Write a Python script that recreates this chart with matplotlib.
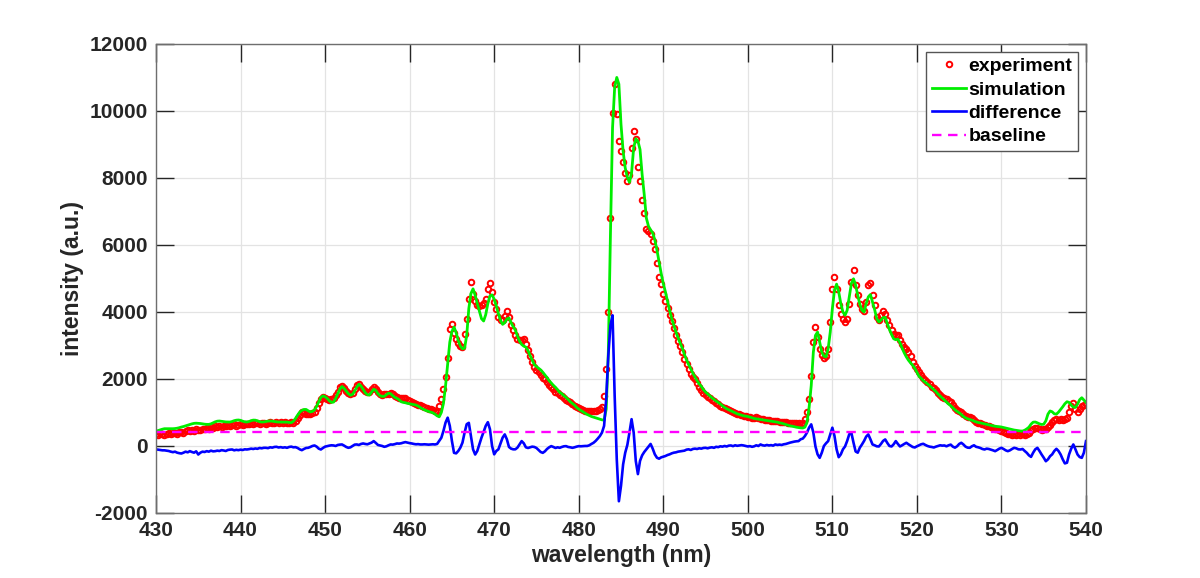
import numpy as np
import matplotlib
matplotlib.use('Agg')
import matplotlib.pyplot as plt

# wavelength grid of the spectra (nm): 430 .. 540 in 0.25 nm steps
wl_start = 430.0
wl_step = 0.25

# measured spectrum (red circles), one row = 5 nm
experiment = [
    365, 340, 380, 350, 330, 360, 390, 350, 375, 400, 370, 410, 430, 400, 445, 470, 440, 480, 455, 500,      # 430
    490, 470, 520, 505, 540, 515, 560, 530, 585, 555, 600, 575, 610, 590, 630, 600, 625, 650, 610, 640,      # 435
    655, 625, 670, 645, 660, 685, 650, 675, 690, 660, 680, 700, 665, 690, 710, 675, 700, 720, 680, 705,      # 440
    690, 715, 700, 680, 710, 690, 760, 840, 920, 1000, 980, 950, 940, 960, 990, 1010, 1120, 1280, 1400, 1450,  # 445
    1430, 1390, 1380, 1400, 1420, 1510, 1620, 1750, 1790, 1720, 1640, 1580, 1550, 1590, 1700, 1810, 1840, 1760, 1690, 1640,  # 450
    1600, 1620, 1700, 1750, 1700, 1600, 1540, 1530, 1550, 1540, 1560, 1580, 1540, 1500, 1470, 1440, 1420, 1440, 1420, 1380,  # 455
    1345, 1320, 1280, 1250, 1230, 1210, 1200, 1170, 1140, 1100, 1090, 1060, 1050, 1040, 1190, 1400, 1700, 2050, 2640, 3500,  # 460
    3650, 3380, 3190, 3060, 2980, 2950, 3340, 3800, 4400, 4880, 4550, 4320, 4220, 4190, 4220, 4260, 4400, 4700, 4870, 4600,  # 465
    4300, 4100, 3850, 3770, 3750, 3880, 4020, 3850, 3620, 3450, 3300, 3200, 3150, 3170, 3190, 3050, 2850, 2680, 2520, 2370,  # 470
    2280, 2200, 2120, 2040, 1990, 1920, 1830, 1760, 1700, 1620, 1570, 1520, 1480, 1440, 1380, 1340, 1300, 1250, 1200, 1160,  # 475
    1130, 1100, 1070, 1050, 1040, 1030, 1040, 1030, 1050, 1080, 1110, 1160, 1500, 2300, 4000, 6800, 9950, 10800, 9900, 9100,  # 480
    8790, 8480, 8150, 7920, 8100, 8900, 9400, 9150, 8340, 7900, 7350, 6950, 6490, 6420, 6330, 6120, 5880, 5450, 5050, 4830,  # 485
    4550, 4320, 4110, 3900, 3720, 3520, 3300, 3120, 2970, 2790, 2610, 2450, 2300, 2160, 2070, 1990, 1870, 1750, 1660, 1570,  # 490
    1520, 1470, 1420, 1380, 1330, 1280, 1240, 1200, 1160, 1120, 1090, 1060, 1040, 1010, 990, 960, 940, 920, 900, 880,  # 495
    870, 860, 840, 830, 850, 820, 800, 810, 790, 780, 770, 760, 750, 760, 740, 730, 720, 730, 710, 700,      # 500
    700, 690, 700, 680, 690, 670, 700, 800, 1000, 1400, 2100, 3100, 3550, 3250, 2900, 2720, 2640, 2700, 2900, 3700,  # 505
    4700, 5050, 4700, 4200, 3950, 3800, 3700, 3800, 4250, 4900, 5250, 4800, 4500, 4250, 4100, 4030, 4300, 4800, 4850, 4500,  # 510
    4200, 3850, 3750, 3900, 4030, 3950, 3750, 3600, 3450, 3330, 3300, 3300, 3150, 3040, 2960, 2900, 2800, 2680, 2500, 2380,  # 515
    2300, 2220, 2130, 2040, 1980, 1920, 1850, 1760, 1720, 1660, 1590, 1530, 1470, 1420, 1390, 1330, 1300, 1220, 1140, 1080,  # 520
    1040, 1000, 940, 890, 870, 850, 830, 770, 730, 700, 680, 650, 620, 590, 600, 560, 530, 510, 520, 490,    # 525
    460, 420, 380, 350, 360, 330, 350, 340, 370, 330, 360, 340, 350, 400, 480, 520, 550, 530, 500, 490,      # 530
    500, 520, 560, 620, 720, 780, 800, 790, 800, 780, 800, 820, 1000, 1200, 1290, 1100, 1000, 1100, 1190, 1230,  # 535
    1250,                                                                                                      # 540
]

# fitted spectrum (green line)
simulation = [
    445, 460, 480, 500, 515, 515, 515, 515, 515, 520, 530, 545, 565, 580, 600, 620, 640, 660, 675, 680,      # 430
    675, 670, 660, 650, 645, 645, 660, 690, 720, 740, 745, 735, 725, 718, 715, 715, 730, 755, 770, 775,      # 435
    765, 740, 720, 715, 730, 755, 772, 770, 750, 725, 715, 718, 730, 742, 745, 740, 730, 720, 715, 715,      # 440
    715, 715, 712, 705, 695, 740, 820, 920, 1010, 1060, 1090, 1090, 1050, 1015, 1030, 1080, 1180, 1320, 1450, 1495,  # 445
    1470, 1420, 1350, 1300, 1310, 1420, 1560, 1700, 1775, 1720, 1640, 1560, 1515, 1540, 1640, 1760, 1840, 1790, 1690, 1590,  # 450
    1530, 1520, 1610, 1695, 1660, 1560, 1500, 1480, 1480, 1530, 1575, 1560, 1500, 1450, 1420, 1380, 1320, 1300, 1290, 1270,  # 455
    1260, 1245, 1235, 1220, 1190, 1150, 1110, 1080, 1050, 1030, 1010, 990, 950, 900, 870, 1000, 1270, 1800, 2450, 3100,  # 460
    3420, 3550, 3380, 3150, 2980, 2900, 2920, 3300, 4100, 4550, 4690, 4500, 4250, 4020, 3800, 3730, 3920, 4250, 4480, 4510,  # 465
    4380, 4180, 3950, 3750, 3630, 3680, 3790, 3820, 3680, 3560, 3460, 3280, 3130, 3030, 2980, 2950, 2850, 2700, 2560, 2430,  # 470
    2370, 2320, 2270, 2200, 2120, 2040, 1950, 1880, 1810, 1750, 1680, 1600, 1560, 1500, 1450, 1390, 1320, 1270, 1220, 1150,  # 475
    1100, 1060, 1020, 980, 940, 910, 880, 860, 840, 820, 800, 780, 770, 1100, 2800, 6300, 9500, 10700, 11000, 10800,  # 480
    9600, 8800, 8300, 8020, 7870, 8150, 8900, 9170, 9100, 8850, 8100, 7500, 6800, 6560, 6450, 6360, 6150, 5850, 5500, 5150,  # 485
    4850, 4600, 4320, 4050, 3800, 3600, 3400, 3230, 3070, 2920, 2730, 2570, 2430, 2300, 2170, 2060, 1950, 1850, 1780, 1680,  # 490
    1610, 1550, 1500, 1440, 1390, 1340, 1300, 1250, 1200, 1150, 1110, 1080, 1050, 1020, 990, 960, 940, 920, 900, 890,  # 495
    880, 860, 840, 820, 810, 800, 790, 780, 770, 760, 750, 740, 730, 720, 710, 690, 680, 660, 640, 620,      # 500
    600, 590, 575, 560, 550, 540, 535, 560, 700, 1150, 1800, 2800, 3300, 3400, 3100, 2800, 2680, 2660, 2900, 3400,  # 505
    4100, 4650, 4830, 4600, 4250, 4000, 3900, 4050, 4450, 4850, 4990, 4800, 4500, 4230, 4050, 4000, 4250, 4450, 4520, 4300,  # 510
    4070, 3800, 3700, 3760, 3830, 3840, 3650, 3480, 3330, 3200, 3170, 3190, 3080, 2920, 2780, 2660, 2560, 2480, 2410, 2320,  # 515
    2200, 2080, 2020, 1950, 1900, 1850, 1800, 1740, 1680, 1620, 1550, 1490, 1430, 1370, 1310, 1250, 1200, 1140, 1080, 1030,  # 520
    990, 940, 880, 840, 810, 790, 770, 740, 720, 700, 690, 675, 660, 645, 630, 615, 600, 590, 580, 575,      # 525
    565, 550, 535, 520, 505, 490, 475, 465, 455, 447, 445, 470, 510, 560, 650, 710, 715, 690, 660, 640,      # 530
    650, 750, 950, 1045, 1020, 960, 950, 1010, 1090, 1170, 1260, 1320, 1300, 1220, 1160, 1150, 1250, 1380, 1440, 1370,  # 535
    1300,                                                                                                      # 540
]

# experiment minus simulation (blue line)
difference = [
    -105, -110, -120, -130, -130, -140, -150, -170, -185, -170, -200, -215, -225, -200, -170, -190, -155, -180, -200, -160,  # 430
    -255, -200, -170, -180, -155, -170, -140, -160, -155, -140, -150, -125, -135, -150, -120, -110, -105, -130, -115, -125,  # 435
    -110, -120, -100, -105, -95, -80, -90, -75, -85, -60, -70, -55, -55, -65, -40, -50, -30, -25, -45, -35,  # 440
    -50, -40, -55, -30, -20, -40, -35, -60, -100, -125, -90, -60, -55, -30, 0, 15, -20, -80, -105, -60,  # 445
    -20, -5, 10, 20, 15, 0, 30, 40, 45, 10, -30, -55, -40, 0, 40, 45, 30, 60, 75, 60,  # 450
    50, 75, 100, 145, 90, 30, 15, 0, -25, -10, 20, 45, 40, 55, 75, 70, 80, 100, 115, 100,  # 455
    85, 75, 60, 50, 55, 45, 45, 50, 45, 40, 45, 50, 45, 60, 150, 245, 450, 700, 845, 600,  # 460
    150, -205, -220, -150, -50, 100, 400, 650, 690, 300, -100, -255, -150, 50, 250, 420, 600, 710, 500, 0,  # 465
    -250, -150, -100, 80, 250, 345, 200, -30, -80, -100, -100, -50, 50, 145, 80, -40, -60, -40, -20, -30,  # 470
    -60, -120, -180, -205, -160, -90, -40, -5, -30, -60, -40, -55, -30, -10, -5, -30, -40, -55, -40, -20,  # 475
    -5, -10, -5, 0, 0, 20, 60, 95, 150, 220, 295, 400, 600, 1400, 2700, 3600, 3900, 1500, -400, -1650,  # 480
    -1190, -550, -200, 30, 400, 800, 400, -450, -840, -445, -280, -180, -100, -20, 60, -80, -250, -350, -380, -340,  # 485
    -320, -300, -270, -250, -220, -200, -190, -170, -160, -150, -140, -110, -100, -120, -90, -80, -90, -70, -80, -60,  # 490
    -55, -70, -50, -40, -55, -25, -35, -10, -20, 0, -15, 10, 15, -5, 20, 5, 15, 25, 15, 0,  # 495
    -15, -5, -25, -10, 20, 0, 45, 20, 10, 30, 15, 25, 10, 45, 30, 40, 30, 50, 60, 80,  # 500
    100, 115, 130, 140, 145, 200, 220, 295, 400, 550, 645, 400, -15, -250, -355, -200, 0, 80, 145, 350,  # 505
    545, 300, -100, -335, -250, -100, -15, 150, 350, 390, 100, -165, -200, -50, 45, 150, 280, 345, 200, 45,  # 510
    20, -10, -15, 60, 150, 195, 90, 0, -15, 50, 145, 60, -15, 20, 60, 95, 50, 10, -30, -45,  # 515
    -10, 20, 50, 65, 30, 0, -20, -30, -45, -20, 0, 20, 10, 15, -10, 20, 40, -20, -50, -10,  # 520
    60, 95, 45, -20, -50, -55, -10, 20, -25, -40, -60, -90, -105, -80, -90, -110, -130, -155, -120, -80,  # 525
    -55, -90, -130, -155, -130, -90, -55, -70, -100, -105, -90, -150, -205, -280, -325, -200, -100, -55, -150, -255,  # 530
    -350, -455, -400, -305, -250, -150, -85, -150, -255, -400, -520, -500, -250, -80, 45, -100, -255, -330, -355, -200,  # 535
    145,                                                                                                       # 540
]

baseline_level = 420
baseline_range = [430, 540]

x_ticks = list(range(430, 541, 10))
y_ticks = list(range(-2000, 12001, 2000))


def wavelengths(values):
    return wl_start + wl_step * np.arange(len(values))


plt.rcParams['font.family'] = ['Liberation Sans', 'DejaVu Sans']
plt.rcParams['font.weight'] = 'bold'
plt.rcParams['axes.labelweight'] = 'bold'
plt.rcParams['axes.unicode_minus'] = False

fig = plt.figure(figsize=(12, 5.78), dpi=100)
ax = fig.add_axes([0.13, 0.1125, 0.775, 0.8115])

ax.plot(wavelengths(experiment), experiment, linestyle='none', marker='o',
        markersize=4.0, markerfacecolor='none', markeredgecolor='red',
        markeredgewidth=1.4, label='experiment')
ax.plot(wavelengths(simulation), simulation, color='#00ee00', linewidth=2.0,
        label='simulation')
ax.plot(wavelengths(difference), difference, color='#0000ff', linewidth=1.9,
        label='difference')
ax.plot(baseline_range, [baseline_level, baseline_level], color='#ff00ff',
        linestyle=(0, (4, 2.8)), linewidth=1.7, label='baseline')

ax.set_xlim(430, 540)
ax.set_ylim(-2000, 12000)
ax.set_xticks(x_ticks)
ax.set_yticks(y_ticks)
ax.tick_params(direction='in', length=13, width=1, colors='#262626',
               labelsize=15, top=True, right=True, pad=6)
for lab in ax.get_xticklabels() + ax.get_yticklabels():
    lab.set_fontweight('bold')

ax.grid(True, color='#e3e3e3', linewidth=0.9)
ax.set_axisbelow(True)
for s in ax.spines.values():
    s.set_color('#6e6e6e')
    s.set_linewidth(1.0)

ax.set_xlabel('wavelength (nm)', fontsize=16.5, fontweight='bold', color='#262626', labelpad=3)
ax.set_ylabel('intensity (a.u.)', fontsize=16.5, fontweight='bold', color='#262626', labelpad=4)

leg = ax.legend(loc='upper right', fontsize=14, numpoints=1, handlelength=1.75,
                handletextpad=0.15, labelspacing=0.3, borderpad=0.3,
                borderaxespad=0.4, fancybox=False, framealpha=1)
leg.get_frame().set_edgecolor('#555555')
leg.get_frame().set_linewidth(1.0)
for t in leg.get_texts():
    t.set_fontweight('bold')

fig.savefig('out.png', dpi=100)
